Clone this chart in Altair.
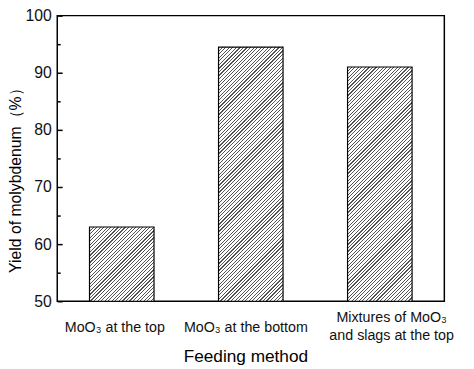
import altair as alt
import pandas as pd

# ---- data ----
categories = ["MoO₃ at the top", "MoO₃ at the bottom", "Mixtures of MoO₃|and slags  at the top"]
yields = [63.0, 94.5, 91.0]
major_ticks = [50, 60, 70, 80, 90, 100]
minor_ticks = [55, 65, 75, 85, 95]
y_min, y_max = 50, 100

df = pd.DataFrame({"method": categories, "yield": yields})

W, H = 393, 290
FONT = "Liberation Sans"
PAD_IN, PAD_OUT = 0.5, 0.25
step = W / (len(categories) - PAD_IN + 2 * PAD_OUT)
bw = step * (1 - PAD_IN)


def hatch(value, period=3.6, duty=0.33, dark="#555555", light="#ffffff"):
    """45-degree '////' hatch as a striped linear gradient (bounding-box units)."""
    h = (value - y_min) / (y_max - y_min) * H
    w = bw
    dT = period * w / (w * w + h * h)
    stops = []
    k = 0
    while k * dT < 1:
        a = k * dT
        b = min(a + duty * dT, 1)
        c = min((k + 1) * dT, 1)
        stops += [alt.GradientStop(color=dark, offset=a),
                  alt.GradientStop(color=dark, offset=b),
                  alt.GradientStop(color=light, offset=b),
                  alt.GradientStop(color=light, offset=c)]
        k += 1
    return alt.Gradient(gradient="linear", stops=stops, x1=0, y1=0, x2=1, y2=h / w)


is_multi = "indexof(datum.value, '|') >= 0"

x_enc = alt.X(
    "method:N",
    sort=categories,
    scale=alt.Scale(paddingInner=PAD_IN, paddingOuter=PAD_OUT),
    axis=alt.Axis(
        title="Feeding method", titleFontSize=17.5, titleFontWeight="normal",
        titleFont=FONT, titleColor="black", titleBaseline="alphabetic",
        titleY=65, titleX=191,
        labelExpr="split(datum.label, '|')", labelAngle=0,
        labelFont=FONT, labelFontSize=14.5, labelColor="#111111",
        labelBaseline="middle", labelLineHeight=18,
        labelPadding={"condition": {"test": is_multi, "value": 17}, "value": 27},
        labelOffset={"condition": [{"test": is_multi, "value": 12},
                                   {"test": "indexof(datum.value, 'bottom') >= 0", "value": -5}],
                     "value": -7},
        offset=-4, tickSize=4, ticks=True, tickColor="black", tickWidth=1.5,
        domain=False, grid=False, labelOverlap=False,
    ),
)

y_scale = alt.Scale(domain=[y_min, y_max], zero=False, nice=False)

y_axis_main = alt.Axis(
    title="Yield of molybdenum（%）", titleFontSize=16, titleFontWeight="normal",
    titleFont=FONT, titleColor="black", titleBaseline="alphabetic",
    titleX=-42, titleY=163, titleAngle=270,
    values=major_ticks, labelFont=FONT, labelFontSize=16, labelColor="#111111",
    labelPadding=6, offset=-5, tickSize=5, tickColor="black", tickWidth=1.5,
    domain=False, grid=False, orient="left",
)

layers = []
for i, (cat, val) in enumerate(zip(categories, yields)):
    layers.append(
        alt.Chart(df)
        .transform_filter(alt.datum.method == cat)
        .mark_bar(fill=hatch(val), stroke="black", strokeWidth=1.2)
        .encode(
            x=x_enc,
            y=alt.Y("yield:Q", scale=y_scale, axis=y_axis_main if i == 0 else None),
            y2=alt.datum(y_min),
        )
    )

minor = (
    alt.Chart(pd.DataFrame({"t": minor_ticks}))
    .mark_point(opacity=0)
    .encode(
        y=alt.Y("t:Q", scale=y_scale,
                axis=alt.Axis(values=minor_ticks, orient="left", offset=-3, tickSize=3,
                              tickColor="black", tickWidth=1.5, labels=False,
                              domain=False, grid=False, title=None))
    )
)

chart = (
    alt.layer(*layers, minor)
    .resolve_axis(y="independent")
    .properties(width=W, height=H, padding={"left": 50, "top": 5, "right": 22, "bottom": 63},
                autosize=alt.AutoSizeParams(type="none"), background="white")
    .configure_view(stroke="black", strokeWidth=1.5)
)

chart.save("out.html", embed_options={"renderer": "svg", "actions": False})
